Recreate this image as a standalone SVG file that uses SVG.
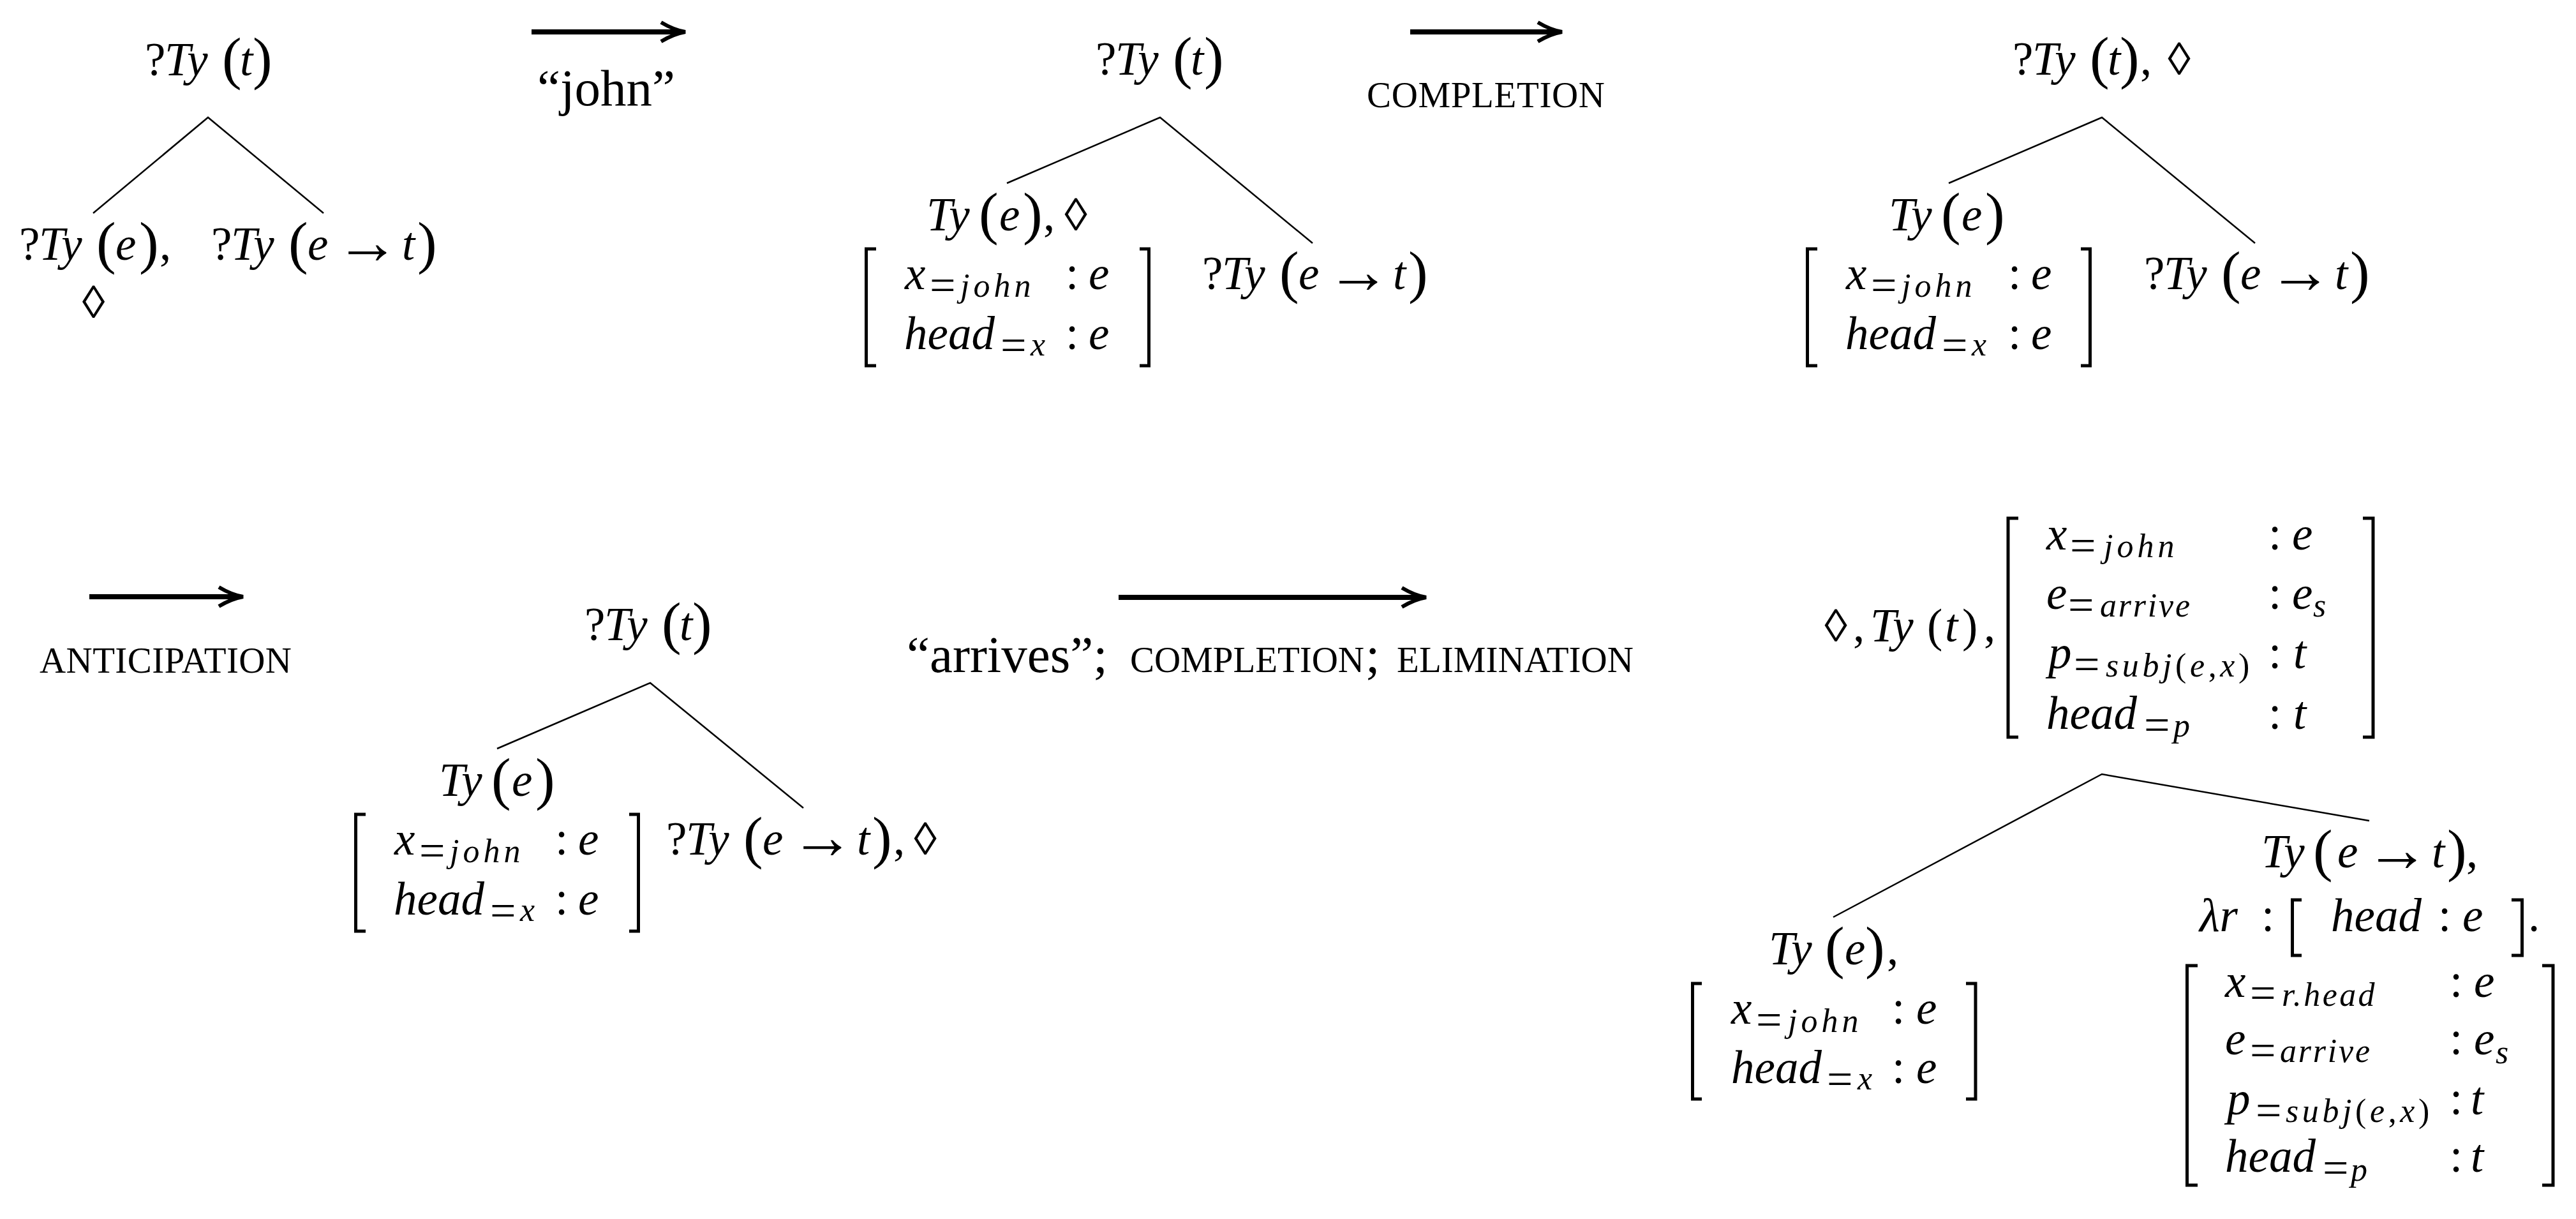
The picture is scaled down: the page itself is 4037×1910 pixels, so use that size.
<svg xmlns="http://www.w3.org/2000/svg" width="4037" height="1910" viewBox="0 0 4037 1910">
<style>
text{font-family:"Liberation Serif","Times New Roman",serif;fill:#000}
.i{font-style:italic;font-size:73px}
.u{font-size:73px}
.p{font-size:92px;baseline-shift:-4px}
.ar{font-size:100px;baseline-shift:-6px}
.s{font-style:italic;font-size:52px}
.su{font-size:52px}
.q{font-size:72px}
.d{font-size:72px}
.t{font-size:81px}
.c{font-size:57px}
.jn{letter-spacing:6px}
.ar6{letter-spacing:2.8px}
.rh{letter-spacing:3.4px}
.sj{letter-spacing:5.6px}
.edge{stroke:#000;stroke-width:2.5;fill:none}
.br{stroke:#000;stroke-width:5;fill:none}
.arr{stroke:#000;stroke-width:8;fill:none;marker-end:url(#ah)}
</style>
<defs>
<marker id="ah" markerUnits="userSpaceOnUse" markerWidth="50" markerHeight="40" refX="36" refY="20" orient="auto" overflow="visible">
<path d="M2,5 Q22,17 40,20 Q22,23 2,35" fill="none" stroke="#000" stroke-width="6"/>
</marker>
</defs>
<rect width="4037" height="1910" fill="#fff"/>

<g id="connectors">
<line class="arr" x1="833" y1="50" x2="1070" y2="50"/>
<line class="arr" x1="2210" y1="50" x2="2444" y2="50"/>
<line class="arr" x1="140" y1="935" x2="377" y2="935"/>
<line class="arr" x1="1753" y1="936" x2="2231" y2="936"/>
<path class="edge" d="M146,334 L326,184 L507,334"/>
<path class="edge" d="M1578,287 L1818,184 L2057,381"/>
<path class="edge" d="M3054,287 L3294,184 L3534,381"/>
<path class="edge" d="M779,1173 L1019,1070 L1259,1266"/>
<path class="edge" d="M2873,1437 L3294,1213 L3713,1286"/>
</g>

<g id="label-john"><text class="t" x="842" y="165">“john”</text></g>
<g id="label-completion1"><text class="c" x="2142" y="168" textLength="373" lengthAdjust="spacing">COMPLETION</text></g>
<g id="label-anticipation"><text class="c" x="62" y="1054" textLength="395" lengthAdjust="spacing">ANTICIPATION</text></g>
<g id="label-arrives">
<text class="t" x="1421" y="1053">“arrives”;</text>
<text class="c" x="1771" y="1053" textLength="367" lengthAdjust="spacing">COMPLETION</text>
<text class="t" x="2140" y="1053">;</text>
<text class="c" x="2189" y="1053" textLength="371" lengthAdjust="spacing">ELIMINATION</text>
</g>

<!-- Tree 1 -->
<g id="t1-root"><text y="118"><tspan class="u" x="227">?</tspan><tspan class="i" x="258">Ty</tspan><tspan class="p" x="348">(</tspan><tspan class="i" x="376">t</tspan><tspan class="p" x="396">)</tspan></text></g>
<g id="t1-left"><text y="407"><tspan class="u" x="30">?</tspan><tspan class="i" x="61">Ty</tspan><tspan class="p" x="151">(</tspan><tspan class="i" x="181">e</tspan><tspan class="p" x="218">)</tspan><tspan class="u" x="250">,</tspan></text>
<text class="d" x="146.5" y="498" text-anchor="middle">◊</text></g>
<g id="t1-right"><text y="407"><tspan class="u" x="331">?</tspan><tspan class="i" x="362">Ty</tspan><tspan class="p" x="452">(</tspan><tspan class="i" x="482">e</tspan><tspan class="ar" x="526">→</tspan><tspan class="i" x="630">t</tspan><tspan class="p" x="654">)</tspan></text></g>

<!-- Tree 2 -->
<g id="t2-root"><text y="117"><tspan class="u" x="1717">?</tspan><tspan class="i" x="1748">Ty</tspan><tspan class="p" x="1838">(</tspan><tspan class="i" x="1866">t</tspan><tspan class="p" x="1887">)</tspan></text></g>
<g id="t2-left"><text y="361"><tspan class="i" x="1452">Ty</tspan><tspan class="p" x="1534">(</tspan><tspan class="i" x="1566">e</tspan><tspan class="p" x="1603">)</tspan><tspan class="u" x="1635">,</tspan></text>
<text class="d" x="1686" y="361" text-anchor="middle">◊</text>
<path class="br" d="M1373,390 H1357.5 V573 H1373 M1786,390 H1800.5 V573 H1786"/>
<text><tspan class="i" x="1418" y="453">x</tspan><tspan class="q" x="1457" y="471">=</tspan><tspan class="s jn" x="1505" y="465">john</tspan><tspan class="u" x="1670" y="453">:</tspan><tspan class="i" x="1706" y="453">e</tspan></text>
<text><tspan class="i" x="1417" y="547">head</tspan><tspan class="q" x="1568" y="565">=</tspan><tspan class="s" x="1615" y="557">x</tspan><tspan class="u" x="1670" y="547">:</tspan><tspan class="i" x="1706" y="547">e</tspan></text>
</g>
<g id="t2-right"><text y="453"><tspan class="u" x="1884">?</tspan><tspan class="i" x="1915">Ty</tspan><tspan class="p" x="2005">(</tspan><tspan class="i" x="2035">e</tspan><tspan class="ar" x="2079">→</tspan><tspan class="i" x="2183">t</tspan><tspan class="p" x="2207">)</tspan></text></g>

<!-- Tree 3 -->
<g id="t3-root"><text y="117"><tspan class="u" x="3154">?</tspan><tspan class="i" x="3185">Ty</tspan><tspan class="p" x="3275">(</tspan><tspan class="i" x="3303">t</tspan><tspan class="p" x="3322">)</tspan><tspan class="u" x="3354">,</tspan></text>
<text class="d" x="3415" y="117" text-anchor="middle">◊</text></g>
<g id="t3-left"><text y="361"><tspan class="i" x="2960">Ty</tspan><tspan class="p" x="3042">(</tspan><tspan class="i" x="3074">e</tspan><tspan class="p" x="3111">)</tspan></text>
<path class="br" d="M2848,390 H2832.5 V573 H2848 M3261,390 H3275.5 V573 H3261"/>
<text><tspan class="i" x="2893" y="453">x</tspan><tspan class="q" x="2932" y="471">=</tspan><tspan class="s jn" x="2980" y="465">john</tspan><tspan class="u" x="3147" y="453">:</tspan><tspan class="i" x="3183" y="453">e</tspan></text>
<text><tspan class="i" x="2892" y="547">head</tspan><tspan class="q" x="3043" y="565">=</tspan><tspan class="s" x="3090" y="557">x</tspan><tspan class="u" x="3147" y="547">:</tspan><tspan class="i" x="3183" y="547">e</tspan></text>
</g>
<g id="t3-right"><text y="453"><tspan class="u" x="3360">?</tspan><tspan class="i" x="3391">Ty</tspan><tspan class="p" x="3481">(</tspan><tspan class="i" x="3511">e</tspan><tspan class="ar" x="3555">→</tspan><tspan class="i" x="3659">t</tspan><tspan class="p" x="3683">)</tspan></text></g>

<!-- Tree 4 -->
<g id="t4-root"><text y="1003"><tspan class="u" x="916">?</tspan><tspan class="i" x="947">Ty</tspan><tspan class="p" x="1037">(</tspan><tspan class="i" x="1065">t</tspan><tspan class="p" x="1085">)</tspan></text></g>
<g id="t4-left"><text y="1247"><tspan class="i" x="688">Ty</tspan><tspan class="p" x="770">(</tspan><tspan class="i" x="802">e</tspan><tspan class="p" x="839">)</tspan></text>
<path class="br" d="M573,1276 H557.5 V1459 H573 M986,1276 H1000.5 V1459 H986"/>
<text><tspan class="i" x="618" y="1339">x</tspan><tspan class="q" x="657" y="1357">=</tspan><tspan class="s jn" x="705" y="1351">john</tspan><tspan class="u" x="870" y="1339">:</tspan><tspan class="i" x="906" y="1339">e</tspan></text>
<text><tspan class="i" x="617" y="1433">head</tspan><tspan class="q" x="768" y="1451">=</tspan><tspan class="s" x="815" y="1443">x</tspan><tspan class="u" x="870" y="1433">:</tspan><tspan class="i" x="906" y="1433">e</tspan></text>
</g>
<g id="t4-right"><text y="1339"><tspan class="u" x="1044">?</tspan><tspan class="i" x="1075">Ty</tspan><tspan class="p" x="1165">(</tspan><tspan class="i" x="1195">e</tspan><tspan class="ar" x="1239">→</tspan><tspan class="i" x="1343">t</tspan><tspan class="p" x="1367">)</tspan><tspan class="u" x="1400">,</tspan></text>
<text class="d" x="1450" y="1339" text-anchor="middle">◊</text></g>

<!-- Tree 5 -->
<g id="t5-root">
<text class="d" x="2877" y="1005" text-anchor="middle">◊</text>
<text y="1005"><tspan class="u" x="2904">,</tspan><tspan class="i" x="2931">Ty</tspan><tspan class="u" x="3020">(</tspan><tspan class="i" x="3048">t</tspan><tspan class="u" x="3075">)</tspan><tspan class="u" x="3109">,</tspan></text>
<path class="br" d="M3163,812 H3147 V1155 H3163 M3703,812 H3719 V1155 H3703"/>
<text><tspan class="i" x="3207" y="861">x</tspan><tspan class="q" x="3244" y="879">=</tspan><tspan class="s jn" x="3297" y="873">john</tspan><tspan class="u" x="3555" y="861">:</tspan><tspan class="i" x="3592" y="861">e</tspan></text>
<text><tspan class="i" x="3207" y="954">e</tspan><tspan class="q" x="3241" y="972">=</tspan><tspan class="s ar6" x="3291" y="966">arrive</tspan><tspan class="u" x="3555" y="954">:</tspan><tspan class="i" x="3592" y="954">e</tspan><tspan class="s" x="3625" y="966">s</tspan></text>
<text><tspan class="i" x="3210" y="1047">p</tspan><tspan class="q" x="3250" y="1065">=</tspan><tspan class="s sj" x="3300" y="1060">subj</tspan><tspan class="su sj">(</tspan><tspan class="s sj">e</tspan><tspan class="su sj">,</tspan><tspan class="s sj">x</tspan><tspan class="su">)</tspan><tspan class="u" x="3555" y="1047">:</tspan><tspan class="i" x="3594" y="1047">t</tspan></text>
<text><tspan class="i" x="3207" y="1142">head</tspan><tspan class="q" x="3360" y="1160">=</tspan><tspan class="s" x="3406" y="1154">p</tspan><tspan class="u" x="3555" y="1142">:</tspan><tspan class="i" x="3594" y="1142">t</tspan></text>
</g>
<g id="t5-left"><text y="1511"><tspan class="i" x="2772">Ty</tspan><tspan class="p" x="2860">(</tspan><tspan class="i" x="2891">e</tspan><tspan class="p" x="2923">)</tspan><tspan class="u" x="2957">,</tspan></text>
<path class="br" d="M2667,1541 H2652.5 V1722 H2667 M3081,1541 H3096 V1722 H3081"/>
<text><tspan class="i" x="2713" y="1604">x</tspan><tspan class="q" x="2752" y="1622">=</tspan><tspan class="s jn" x="2802" y="1617">john</tspan><tspan class="u" x="2965" y="1604">:</tspan><tspan class="i" x="3003" y="1604">e</tspan></text>
<text><tspan class="i" x="2713" y="1697">head</tspan><tspan class="q" x="2863" y="1715">=</tspan><tspan class="s" x="2911" y="1707">x</tspan><tspan class="u" x="2965" y="1697">:</tspan><tspan class="i" x="3003" y="1697">e</tspan></text>
</g>
<g id="t5-right">
<text y="1359"><tspan class="i" x="3544">Ty</tspan><tspan class="p" x="3625">(</tspan><tspan class="i" x="3663">e</tspan><tspan class="ar" x="3707">→</tspan><tspan class="i" x="3811">t</tspan><tspan class="p" x="3835">)</tspan><tspan class="u" x="3865">,</tspan></text>
<text y="1459"><tspan class="i" x="3447">λr</tspan><tspan class="u" x="3544">:</tspan><tspan class="i" x="3653">head</tspan><tspan class="u" x="3821">:</tspan><tspan class="i" x="3859">e</tspan><tspan class="u" x="3962">.</tspan></text>
<path class="br" d="M3607,1410 H3592.5 V1497 H3607 M3936,1410 H3952.5 V1497 H3936"/>
<path class="br" d="M3444,1513 H3427.5 V1857 H3444 M3984,1513 H4001 V1857 H3984"/>
<text><tspan class="i" x="3487" y="1562">x</tspan><tspan class="q" x="3526" y="1580">=</tspan><tspan class="s rh" x="3576" y="1576">r.head</tspan><tspan class="u" x="3839" y="1562">:</tspan><tspan class="i" x="3877" y="1562">e</tspan></text>
<text><tspan class="i" x="3487" y="1652">e</tspan><tspan class="q" x="3526" y="1670">=</tspan><tspan class="s ar6" x="3573" y="1664">arrive</tspan><tspan class="u" x="3839" y="1652">:</tspan><tspan class="i" x="3877" y="1652">e</tspan><tspan class="s" x="3911" y="1666">s</tspan></text>
<text><tspan class="i" x="3490" y="1746">p</tspan><tspan class="q" x="3535" y="1764">=</tspan><tspan class="s sj" x="3582" y="1758">subj</tspan><tspan class="su sj">(</tspan><tspan class="s sj">e</tspan><tspan class="su sj">,</tspan><tspan class="s sj">x</tspan><tspan class="su">)</tspan><tspan class="u" x="3839" y="1746">:</tspan><tspan class="i" x="3872" y="1746">t</tspan></text>
<text><tspan class="i" x="3487" y="1836">head</tspan><tspan class="q" x="3640" y="1854">=</tspan><tspan class="s" x="3684" y="1850">p</tspan><tspan class="u" x="3839" y="1836">:</tspan><tspan class="i" x="3872" y="1836">t</tspan></text>
</g>
</svg>
